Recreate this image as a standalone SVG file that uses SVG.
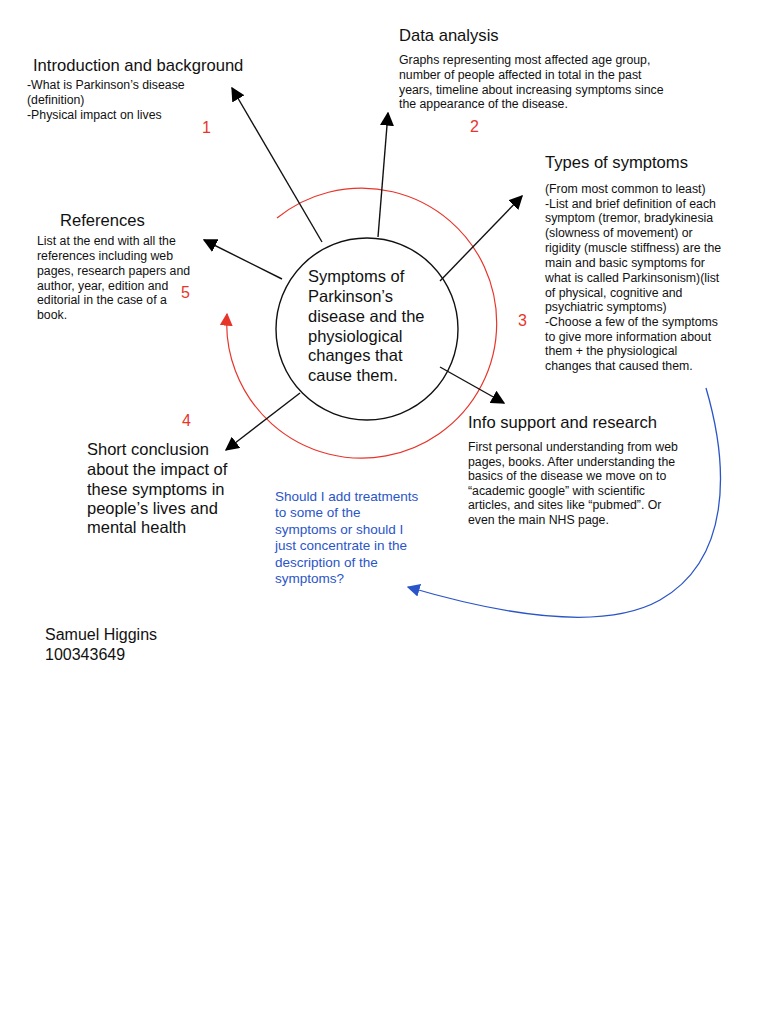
<svg xmlns="http://www.w3.org/2000/svg" width="768" height="1024" viewBox="0 0 768 1024">
<style>
text{font-family:"Liberation Sans",Arial,Helvetica,sans-serif;fill:#111}
.h{font-size:16.6px}
.a{font-size:16px}
.b{font-size:12.3px}
.c{font-size:16.5px}
.q{font-size:13.5px;fill:#2a55c8}
.n{font-size:16px;fill:#e8352a}
.k{stroke:#111;stroke-width:1.4;fill:none}
</style>
<defs>
<marker id="ah" viewBox="0 0 10 10" refX="9" refY="5" markerWidth="14" markerHeight="14" markerUnits="userSpaceOnUse" orient="auto"><path d="M0,0 L10,5 L0,10 z" fill="#000"/></marker>
<marker id="ar" viewBox="0 0 10 10" refX="9" refY="5" markerWidth="13" markerHeight="13" markerUnits="userSpaceOnUse" orient="auto"><path d="M0,0 L10,5 L0,10 z" fill="#e8352a"/></marker>
<marker id="ab" viewBox="0 0 10 10" refX="9" refY="5" markerWidth="13" markerHeight="13" markerUnits="userSpaceOnUse" orient="auto"><path d="M0,0 L10,5 L0,10 z" fill="#2a55c8"/></marker>
</defs>
<rect width="768" height="1024" fill="#fff"/>
<g id="connectors">
<path d="M277,218 A135,135 0 1 1 227,314" fill="none" stroke="#e8352a" stroke-width="1.2" marker-end="url(#ar)"/>
<line class="k" x1="322" y1="242" x2="232" y2="88" marker-end="url(#ah)"/>
<line class="k" x1="378" y1="237" x2="388" y2="113" marker-end="url(#ah)"/>
<line class="k" x1="440" y1="281" x2="522" y2="196" marker-end="url(#ah)"/>
<line class="k" x1="440" y1="367" x2="504" y2="403" marker-end="url(#ah)"/>
<line class="k" x1="300" y1="393" x2="226" y2="450" marker-end="url(#ah)"/>
<line class="k" x1="282" y1="279" x2="204" y2="240" marker-end="url(#ah)"/>
<path d="M706,388 C730,470 730,560 660,600 C610,628 520,620 408,587" fill="none" stroke="#2a55c8" stroke-width="1.3" marker-end="url(#ab)"/>
</g>
<g id="center">
<circle cx="367" cy="329" r="91" fill="none" stroke="#111" stroke-width="1.4"/>
<text class="c" x="308" y="282">Symptoms of</text>
<text class="c" x="308" y="302">Parkinson’s</text>
<text class="c" x="308" y="322">disease and the</text>
<text class="c" x="308" y="342">physiological</text>
<text class="c" x="308" y="361">changes that</text>
<text class="c" x="308" y="381">cause them.</text>
</g>
<g id="intro">
<text class="h" x="33" y="71">Introduction and background</text>
<text class="b" x="27" y="89">-What is Parkinson’s disease</text>
<text class="b" x="27" y="104">(definition)</text>
<text class="b" x="27" y="119">-Physical impact on lives</text>
<text class="n" x="202" y="133">1</text>
</g>
<g id="data">
<text class="h" x="399" y="41">Data analysis</text>
<text class="b" x="399" y="64">Graphs representing most affected age group,</text>
<text class="b" x="399" y="79">number of people affected in total in the past</text>
<text class="b" x="399" y="94">years, timeline about increasing symptoms since</text>
<text class="b" x="399" y="108">the appearance of the disease.</text>
<text class="n" x="470" y="132">2</text>
</g>
<g id="types">
<text class="h" x="545" y="168">Types of symptoms</text>
<text class="b" x="545" y="193">(From most common to least)</text>
<text class="b" x="545" y="208">-List and brief definition of each</text>
<text class="b" x="545" y="222">symptom (tremor, bradykinesia</text>
<text class="b" x="545" y="237">(slowness of movement) or</text>
<text class="b" x="545" y="252">rigidity (muscle stiffness) are the</text>
<text class="b" x="545" y="267">main and basic symptoms for</text>
<text class="b" x="545" y="282">what is called Parkinsonism)(list</text>
<text class="b" x="545" y="297">of physical, cognitive and</text>
<text class="b" x="545" y="311">psychiatric symptoms)</text>
<text class="b" x="545" y="326">-Choose a few of the symptoms</text>
<text class="b" x="545" y="341">to give more information about</text>
<text class="b" x="545" y="355">them + the physiological</text>
<text class="b" x="545" y="370">changes that caused them.</text>
<text class="n" x="518" y="326">3</text>
</g>
<g id="info">
<text class="h" x="468" y="428">Info support and research</text>
<text class="b" x="468" y="451">First personal understanding from web</text>
<text class="b" x="468" y="466">pages, books. After understanding the</text>
<text class="b" x="468" y="480">basics of the disease we move on to</text>
<text class="b" x="468" y="495">“academic google” with scientific</text>
<text class="b" x="468" y="509">articles, and sites like “pubmed”. Or</text>
<text class="b" x="468" y="524">even the main NHS page.</text>
</g>
<g id="conclusion">
<text class="c" x="87" y="455">Short conclusion</text>
<text class="c" x="87" y="475">about the impact of</text>
<text class="c" x="87" y="495">these symptoms in</text>
<text class="c" x="87" y="514">people’s lives and</text>
<text class="c" x="87" y="533">mental health</text>
<text class="n" x="182" y="426">4</text>
</g>
<g id="references">
<text class="h" x="60" y="226">References</text>
<text class="b" x="37" y="245">List at the end with all the</text>
<text class="b" x="37" y="260">references including web</text>
<text class="b" x="37" y="275">pages, research papers and</text>
<text class="b" x="37" y="290">author, year, edition and</text>
<text class="b" x="37" y="304">editorial in the case of a</text>
<text class="b" x="37" y="319">book.</text>
<text class="n" x="181" y="298">5</text>
</g>
<g id="question">
<text class="q" x="275" y="501">Should I add treatments</text>
<text class="q" x="275" y="517">to some of the</text>
<text class="q" x="275" y="534">symptoms or should I</text>
<text class="q" x="275" y="550">just concentrate in the</text>
<text class="q" x="275" y="567">description of the</text>
<text class="q" x="275" y="583">symptoms?</text>
</g>
<g id="author">
<text class="a" x="45" y="640">Samuel Higgins</text>
<text class="a" x="45" y="660">100343649</text>
</g>
</svg>
